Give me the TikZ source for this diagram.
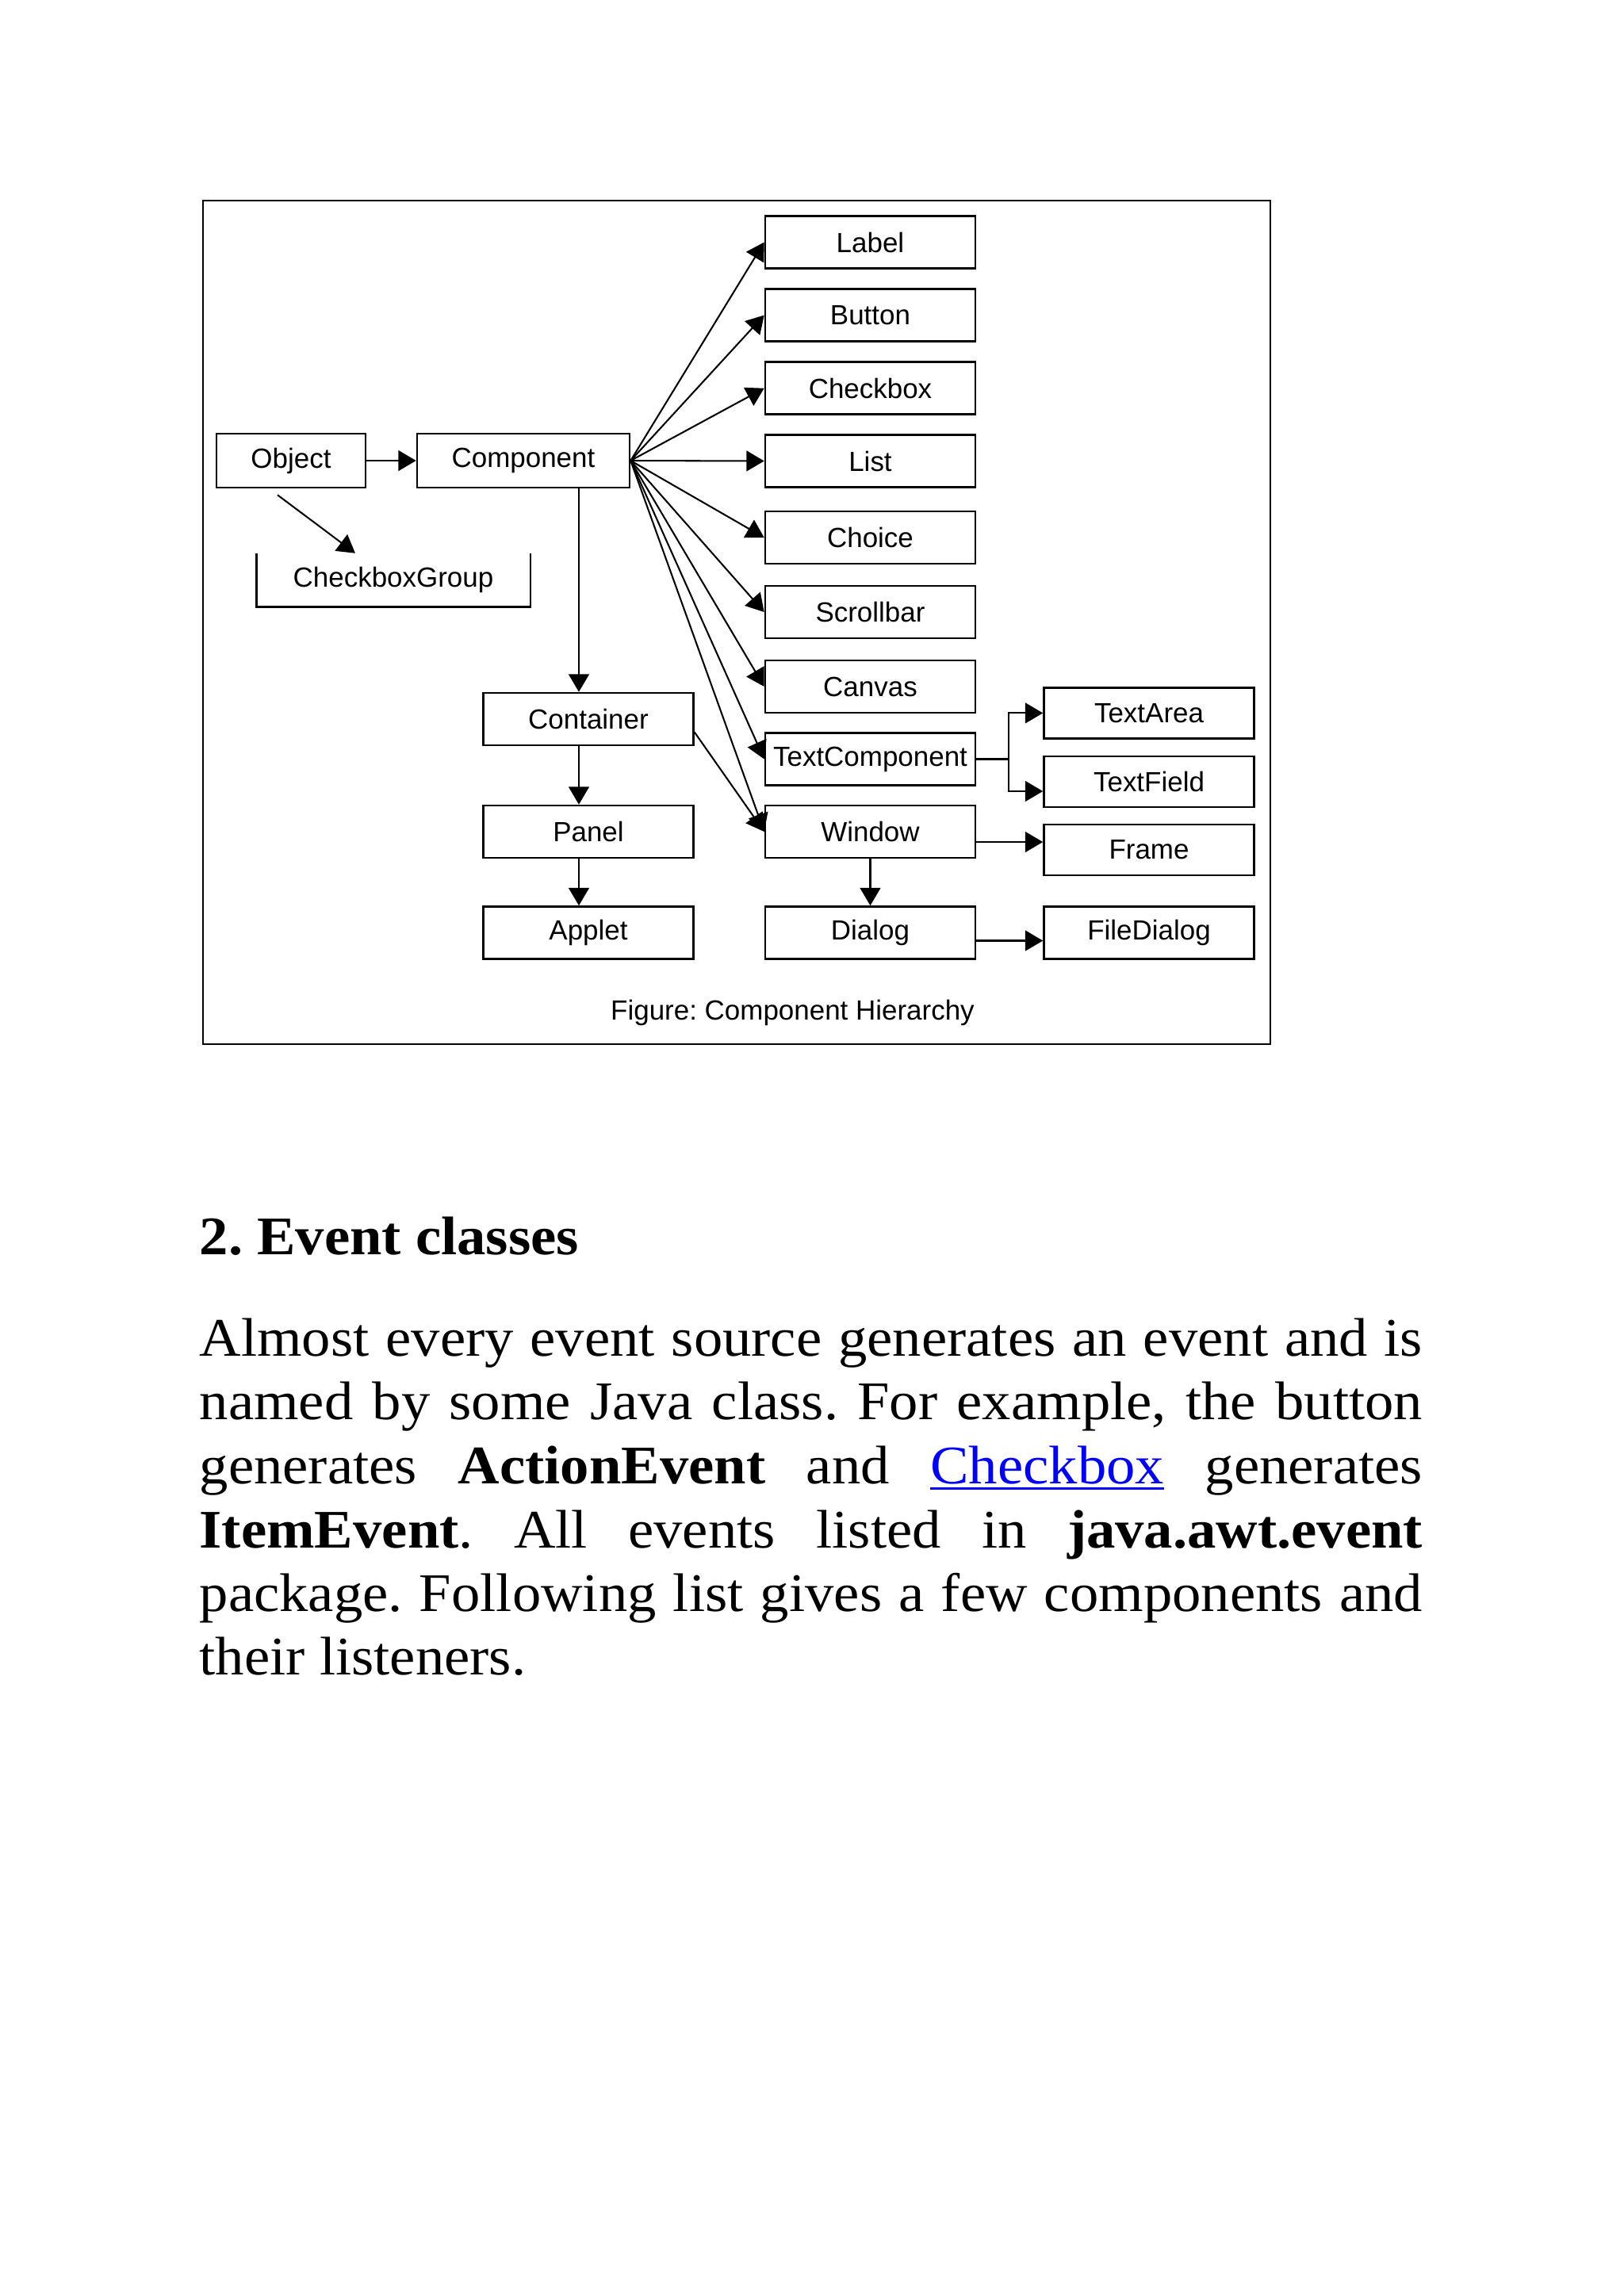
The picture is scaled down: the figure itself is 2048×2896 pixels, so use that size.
\documentclass[tikz,border=0pt]{standalone}
\usepackage{fontspec}
\setmainfont{Liberation Serif}[FakeStretch=1.06]
\newfontfamily\diagfont{Liberation Sans}
\usetikzlibrary{arrows.meta}
\frenchspacing
\newlength\px
\setlength\px{0.0102539cm}
\definecolor{linkblue}{RGB}{0,0,255}
\newcommand\linkword[1]{\textcolor{linkblue}{\setbox0\hbox{#1}\rlap{\rule[-2.3pt]{\wd0}{0.8pt}}\box0}}
\tikzset{
  cls/.style={draw, line width=0.75pt, minimum width=265*\px, minimum height=66*\px,
    inner sep=0pt, font=\diagfont\fontsize{10.2}{12}\selectfont},
  inh/.style={-{Triangle[length=6.5pt,width=7.5pt]}, line width=0.6pt},
  bodyline/.style={anchor=base west, inner sep=0pt, font=\fontsize{20}{24}\selectfont},
}
\begin{document}
\begin{tikzpicture}[x=0.0102539cm, y=-0.0102539cm]
  \useasboundingbox (0,0) rectangle (2048,2896);

  % figure frame
  \draw[line width=0.75pt] (256,253) rectangle (1602,1317);

  \node[cls, minimum width=188*\px, minimum height=68*\px] (Object) at (367,581) {Object};
  \node[cls, minimum width=268*\px, minimum height=68*\px] (Component) at (660,581) {Component};
  \node[cls, draw=none, minimum width=343*\px, minimum height=65*\px] (CheckboxGroup) at (496,731.5) {CheckboxGroup};
  \draw[line width=0.75pt] (CheckboxGroup.north west) -- (CheckboxGroup.south west)
    -- (CheckboxGroup.south east) -- (CheckboxGroup.north east);

  \node[cls] (Label) at (1097.5,305.5) {Label};
  \node[cls] (Button) at (1097.5,397.5) {Button};
  \node[cls] (Checkbox) at (1097.5,489.7) {Checkbox};
  \node[cls] (List) at (1097.5,581.5) {List};
  \node[cls] (Choice) at (1097.5,678) {Choice};
  \node[cls] (Scrollbar) at (1097.5,772) {Scrollbar};
  \node[cls] (Canvas) at (1097.5,866) {Canvas};
  \node[cls] (TextComponent) at (1097.5,957.5) {TextComponent};
  \node[cls] (Window) at (1097.5,1049) {Window};
  \node[cls] (Dialog) at (1097.5,1176.5) {Dialog};

  \node[cls] (Container) at (742,907) {Container};
  \node[cls] (Panel) at (742,1049) {Panel};
  \node[cls] (Applet) at (742,1176.5) {Applet};

  \node[cls, minimum height=64*\px] (TextArea) at (1449,899.4) {TextArea};
  \node[cls, minimum height=64*\px] (TextField) at (1449,986) {TextField};
  \node[cls, minimum height=64*\px] (Frame) at (1449,1072) {Frame};
  \node[cls] (FileDialog) at (1449,1176.5) {FileDialog};

  \node[font=\diagfont\fontsize{10.2}{12}\selectfont, anchor=base, inner sep=0pt] (caption) at (999.5,1286) {Figure: Component Hierarchy};

  % connectors
  \coordinate (cx) at (730,0);
  \draw[inh] (Object) -- (Component);
  \draw[inh] ([xshift=-17*\px, yshift=-8*\px]Object.south) -- ([xshift=-48*\px]CheckboxGroup.north);
  \foreach \c in {Label,Button,Checkbox,List,Choice,Scrollbar,Canvas,TextComponent,Window}
    \draw[inh] (Component.east) -- (\c.west);
  \draw[inh] (Component.south -| cx) -- (Container.north -| cx);
  \draw[inh] (Container.south -| cx) -- (Panel.north -| cx);
  \draw[inh] (Panel.south -| cx) -- (Applet.north -| cx);
  \draw[inh] (Container.-7) -- (Window.west);
  \draw[inh] (TextComponent.east) -- ++(41,0) |- (TextArea.west);
  \draw[inh] (TextComponent.east) -- ++(41,0) |- ([yshift=-12*\px]TextField.west);
  \draw[inh] ([yshift=-13*\px]Window.east) -- ([yshift=-13*\px]Window.east -| Frame.west);
  \draw[inh] (Window) -- (Dialog);
  \draw[inh] ([yshift=-10*\px]Dialog.east) -- ([yshift=-10*\px]Dialog.east -| FileDialog.west);

  % text below the figure
  \node[bodyline, font=\bfseries\fontsize{20}{24}\selectfont] (head) at (251,1582) {2. Event classes};
  \node[bodyline] (line1) at (251,1710) {\makebox[450pt][s]{Almost every event source generates an event and is}};
  \node[bodyline] (line2) at (251,1790) {\makebox[450pt][s]{named by some Java class. For example, the button}};
  \node[bodyline] (line3) at (251,1871) {\makebox[450pt][s]{generates \textbf{ActionEvent} and \linkword{Checkbox} generates}};
  \node[bodyline] (line4) at (251,1952) {\makebox[450pt][s]{\textbf{ItemEvent}. All events listed in \textbf{java.awt.event}}};
  \node[bodyline] (line5) at (251,2032) {\makebox[450pt][s]{package. Following list gives a few components and}};
  \node[bodyline] (line6) at (251,2112) {their listeners.};
\end{tikzpicture}
\end{document}
